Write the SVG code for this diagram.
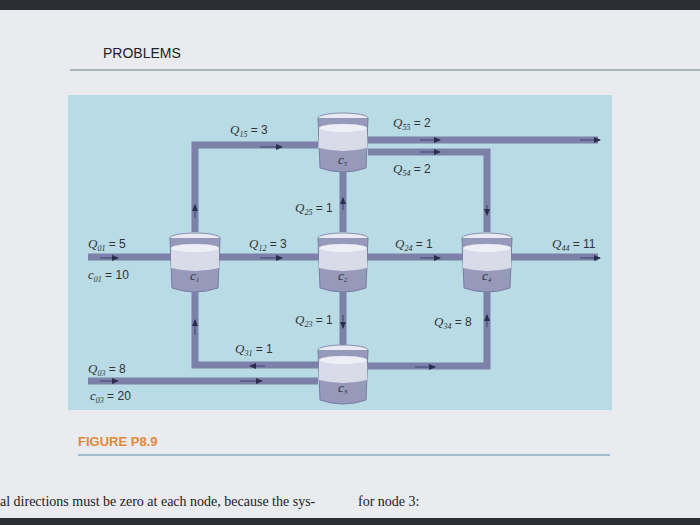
<svg xmlns="http://www.w3.org/2000/svg" width="700" height="525" viewBox="0 0 700 525">
<defs>
<style>
.pipe{fill:none;stroke:#7d80a8;stroke-width:7;stroke-linejoin:miter}
.lab{font-family:"Liberation Serif",serif;font-style:italic;font-size:13px;fill:#333}
.num{font-family:"Liberation Sans",sans-serif;font-style:normal;font-size:12px;fill:#333}
.arr{fill:none;stroke:#555a86;stroke-width:1.5;marker-end:url(#ah)}
</style>
<marker id="ah" markerWidth="8" markerHeight="8" refX="6" refY="4" orient="auto" markerUnits="userSpaceOnUse"><path d="M0,1 L7,4 L0,7 Z" fill="#2b2e4a"/></marker>
<g id="beaker"><ellipse cx="0" cy="0" rx="25" ry="5" fill="#e8e9f2" stroke="#8a8db0"/><path d="M-25,0 L-23,50 Q0,58 23,50 L25,0" fill="#9799bb" stroke="#7a7da3"/><path d="M-24,10 L24,10 L24,30 Q0,36 -24,30 Z" fill="#d9dbe9"/><ellipse cx="0" cy="10" rx="24" ry="4" fill="#eeeff6"/></g>
</defs>
<rect width="700" height="525" fill="#e9ebee"/>
<rect width="700" height="10" fill="#2a2d33"/>
<rect y="518" width="700" height="7" fill="#2a2d33"/>
<text x="103" y="58" font-family="Liberation Sans,sans-serif" font-size="14" fill="#222">PROBLEMS</text>
<line x1="70" y1="70" x2="700" y2="70" stroke="#6d7b86" stroke-width="1"/>
<rect x="68" y="95" width="544" height="315" fill="#b8dbe6"/>
<g id="connectors">
<path class="pipe" d="M195,232 V145 H318"/>
<path class="pipe" d="M368,140 H598"/>
<path class="pipe" d="M368,152 H487 V232"/>
<path class="pipe" d="M88,257 H598"/>
<path class="pipe" d="M343,162 V232 M343,290 V345"/>
<path class="pipe" d="M195,290 V365 H318"/>
<path class="pipe" d="M368,366 H487 V290"/>
<path class="pipe" d="M88,381 H318"/>
<path class="arr" d="M260,147 H282"/><path class="arr" d="M420,140 H440"/><path class="arr" d="M580,140 H600"/>
<path class="arr" d="M420,152 H440"/><path class="arr" d="M487,205 V215"/><path class="arr" d="M195,218 V205"/>
<path class="arr" d="M343,210 V198"/><path class="arr" d="M260,258 H282"/><path class="arr" d="M420,258 H440"/>
<path class="arr" d="M580,258 H600"/><path class="arr" d="M100,258 H118"/><path class="arr" d="M343,315 V328"/>
<path class="arr" d="M195,335 V320"/><path class="arr" d="M487,327 V315"/><path class="arr" d="M265,366 H250"/>
<path class="arr" d="M415,367 H435"/><path class="arr" d="M100,381 H118"/><path class="arr" d="M240,381 H262"/>
</g>
<g id="c5"><use href="#beaker" x="343" y="118"/><text class="lab" x="338" y="164" font-size="9">c<tspan font-size="7" dy="2">5</tspan></text></g>
<g id="c1"><use href="#beaker" x="195" y="238"/><text class="lab" x="190" y="280" font-size="9">c<tspan font-size="7" dy="2">1</tspan></text></g>
<g id="c2"><use href="#beaker" x="343" y="238"/><text class="lab" x="338" y="280" font-size="9">c<tspan font-size="7" dy="2">2</tspan></text></g>
<g id="c4"><use href="#beaker" x="487" y="238"/><text class="lab" x="482" y="280" font-size="9">c<tspan font-size="7" dy="2">4</tspan></text></g>
<g id="c3"><use href="#beaker" x="343" y="350"/><text class="lab" x="338" y="392" font-size="9">c<tspan font-size="7" dy="2">3</tspan></text></g>
<g id="labels">
<text x="230" y="134" class="lab">Q<tspan font-size="8" dy="3">15</tspan><tspan class="num" dy="-3"> = 3</tspan></text>
<text x="393" y="127" class="lab">Q<tspan font-size="8" dy="3">55</tspan><tspan class="num" dy="-3"> = 2</tspan></text>
<text x="393" y="173" class="lab">Q<tspan font-size="8" dy="3">54</tspan><tspan class="num" dy="-3"> = 2</tspan></text>
<text x="295" y="212" class="lab">Q<tspan font-size="8" dy="3">25</tspan><tspan class="num" dy="-3"> = 1</tspan></text>
<text x="88" y="248" class="lab">Q<tspan font-size="8" dy="3">01</tspan><tspan class="num" dy="-3"> = 5</tspan></text>
<text x="88" y="279" class="lab">c<tspan font-size="8" dy="3">01</tspan><tspan class="num" dy="-3"> = 10</tspan></text>
<text x="249" y="248" class="lab">Q<tspan font-size="8" dy="3">12</tspan><tspan class="num" dy="-3"> = 3</tspan></text>
<text x="395" y="248" class="lab">Q<tspan font-size="8" dy="3">24</tspan><tspan class="num" dy="-3"> = 1</tspan></text>
<text x="552" y="248" class="lab">Q<tspan font-size="8" dy="3">44</tspan><tspan class="num" dy="-3"> = 11</tspan></text>
<text x="295" y="324" class="lab">Q<tspan font-size="8" dy="3">23</tspan><tspan class="num" dy="-3"> = 1</tspan></text>
<text x="434" y="326" class="lab">Q<tspan font-size="8" dy="3">34</tspan><tspan class="num" dy="-3"> = 8</tspan></text>
<text x="235" y="353" class="lab">Q<tspan font-size="8" dy="3">31</tspan><tspan class="num" dy="-3"> = 1</tspan></text>
<text x="88" y="373" class="lab">Q<tspan font-size="8" dy="3">03</tspan><tspan class="num" dy="-3"> = 8</tspan></text>
<text x="90" y="400" class="lab">c<tspan font-size="8" dy="3">03</tspan><tspan class="num" dy="-3"> = 20</tspan></text>
</g>
<text x="78" y="446" font-family="Liberation Sans,sans-serif" font-weight="bold" font-size="13" fill="#e0893a">FIGURE P8.9</text>
<line x1="78" y1="455" x2="610" y2="455" stroke="#5b8fb0" stroke-width="1"/>
<text x="0" y="506" font-family="Liberation Serif,serif" font-size="14" fill="#222">al directions must be zero at each node, because the sys-</text>
<text x="358" y="506" font-family="Liberation Serif,serif" font-size="14" fill="#222">for node 3:</text>
</svg>
